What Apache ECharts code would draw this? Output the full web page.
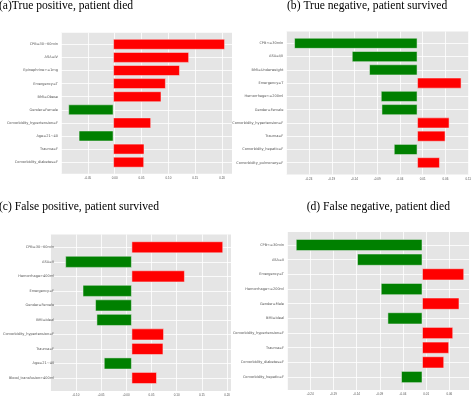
<!DOCTYPE html>
<html>
<head>
<meta charset="utf-8">
<script src="https://cdn.jsdelivr.net/npm/echarts@6/dist/echarts.min.js"></script>
<style>
  html, body { margin: 0; padding: 0; background: #fff; }
  #chart { width: 474px; height: 401px; }
</style>
</head>
<body>
<div id="chart"></div>
<script>
// (a) True positive, patient died
var labelsA = ['CPB=30~60min', 'ASA=IV', 'Epinephrine>=1mg', 'Emergency=T', 'BMI=Obese',
  'Gender=Female', 'Comorbidity_hypertension=F', 'Age=21~40', 'Trauma=F', 'Comorbidity_diabetes=F'];
var valuesA = [0.2076, 0.1407, 0.1236, 0.0974, 0.0892, -0.0836, 0.0700, -0.0643, 0.0576, 0.0570];

// (b) True negative, patient survived
var labelsB = ['CPB<=30min', 'ASA=I/II', 'BMI=Underweight', 'Emergency=T', 'Hemorrhage<=200ml',
  'Gender=Female', 'Comorbidity_hypertension=F', 'Trauma=F', 'Comorbidity_hepatic=F', 'Comorbidity_pulmonary=F'];
var valuesB = [-0.2697, -0.1432, -0.1053, 0.0965, -0.0796, -0.0781, 0.0702, 0.0614, -0.0511, 0.0491];

// (c) False positive, patient survived
var labelsC = ['CPB=30~60min', 'ASA=II', 'Hemorrhage>400ml', 'Emergency=F', 'Gender=Female',
  'BMI=Ideal', 'Comorbidity_hypertension=F', 'Trauma=F', 'Age=21~40', 'Blood_transfusion>400ml'];
var valuesC = [0.1879, -0.1363, 0.1091, -0.1006, -0.0748, -0.0720, 0.0661, 0.0649, -0.0569, 0.0516];

// (d) False negative, patient died
var labelsD = ['CPB<=30min', 'ASA=II', 'Emergency=T', 'Hemorrhage<=200ml', 'Gender=Male',
  'BMI=Ideal', 'Comorbidity_hypertension=F', 'Trauma=F', 'Comorbidity_diabetes=F', 'Comorbidity_hepatic=F'];
var valuesD = [-0.2722, -0.1401, 0.0899, -0.0890, 0.0797, -0.0746, 0.0662, 0.0575, 0.0468, -0.0453];

var titles = ['(a)True positive, patient died', '(b) True negative, patient survived',
  '(c) False positive, patient survived', '(d) False negative, patient died'];

// layout of each panel: plot left/right (px), first bar centre, bar spacing, x range
var panels = [
  { labels: labelsA, values: valuesA, left: 61,    right: 232,   c0: 44.3,  sp: 13.1,  min: -0.0975, max: 0.2210, tx: -1,  ty: 0 },
  { labels: labelsB, values: valuesB, left: 286.3, right: 469.3, c0: 43.3,  sp: 13.27, min: -0.2873, max: 0.1140, tx: 287, ty: 0 },
  { labels: labelsC, values: valuesC, left: 50.7,  right: 231,   c0: 247.3, sp: 14.52, min: -0.1534, max: 0.2044, tx: -1,  ty: 200.5 },
  { labels: labelsD, values: valuesD, left: 287,   right: 469.3, c0: 245,   sp: 14.67, min: -0.2916, max: 0.1014, tx: 306.7, ty: 200.5 }
];

var RED = '#ff0000', GREEN = '#008000', BG = '#e5e5e5', TXT = '#555555';

var grids = [], xAxes = [], yAxes = [], series = [], title = [];

panels.forEach(function (p, i) {
  var w = p.right - p.left;
  var bgTop = p.c0 - 0.89 * p.sp;
  var bgH = 10.78 * p.sp;

  // background grid with vertical grid lines and tick labels
  grids.push({ left: p.left, top: bgTop, width: w, height: bgH, show: true, backgroundColor: BG, borderWidth: 0 });
  // horizontal grid lines through bar centres
  grids.push({ left: p.left, top: p.c0, width: w, height: 9 * p.sp });
  // bars
  grids.push({ left: p.left, top: p.c0 - p.sp / 2, width: w, height: 10 * p.sp });

  xAxes.push({
    gridIndex: 3 * i, type: 'value', min: p.min, max: p.max, interval: 0.05,
    axisLine: { show: false }, axisTick: { show: false },
    splitLine: { show: true, lineStyle: { color: '#ffffff', width: 0.8 } },
    axisLabel: {
      fontSize: 3, color: TXT, margin: 3, showMinLabel: false, showMaxLabel: false,
      formatter: function (v) { return (Math.abs(v) < 1e-9 ? 0 : v).toFixed(2); }
    }
  });
  yAxes.push({ gridIndex: 3 * i, type: 'value', min: 0, max: 1, show: false });

  xAxes.push({ gridIndex: 3 * i + 1, type: 'value', min: 0, max: 1, show: false });
  yAxes.push({
    gridIndex: 3 * i + 1, type: 'value', min: 0, max: 9, interval: 1, inverse: true,
    axisLine: { show: false }, axisTick: { show: false }, axisLabel: { show: false },
    splitLine: { show: true, lineStyle: { color: '#ffffff', width: 0.8 } }
  });

  xAxes.push({ gridIndex: 3 * i + 2, type: 'value', min: p.min, max: p.max, show: false });
  yAxes.push({
    gridIndex: 3 * i + 2, type: 'category', data: p.labels, inverse: true,
    axisLine: { show: false }, axisTick: { show: false }, splitLine: { show: false },
    axisLabel: { fontSize: 3.5, color: TXT, margin: 3, fontFamily: 'DejaVu Sans' }
  });

  series.push({
    type: 'bar', xAxisIndex: 3 * i + 2, yAxisIndex: 3 * i + 2,
    barWidth: '80%', data: p.values,
    itemStyle: {
      borderColor: '#eeeeee', borderWidth: 0.5,
      color: function (d) { return d.value > 0 ? RED : GREEN; }
    }
  });

  title.push({
    text: titles[i], left: p.tx, top: p.ty, padding: 0,
    textStyle: { fontFamily: 'Liberation Serif', fontSize: 11.6, fontWeight: 'normal', color: '#000' }
  });
});

var chart = echarts.init(document.getElementById('chart'));
chart.setOption({
  animation: false,
  title: title,
  grid: grids,
  xAxis: xAxes,
  yAxis: yAxes,
  series: series
});
</script>
</body>
</html>
